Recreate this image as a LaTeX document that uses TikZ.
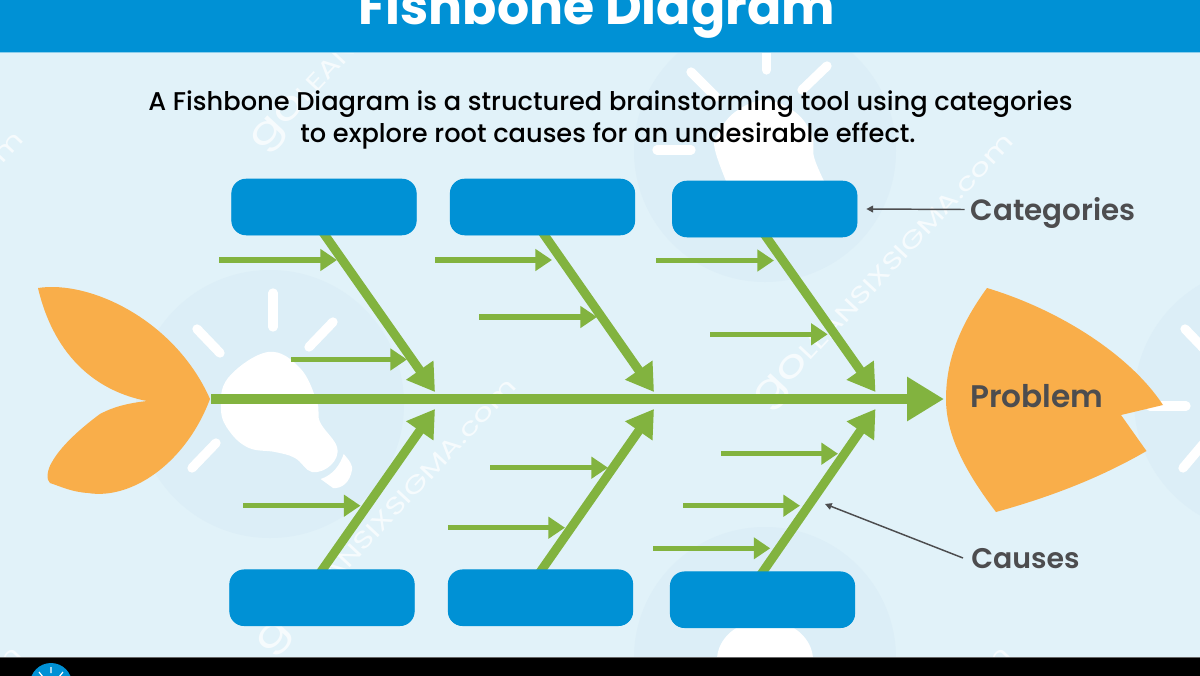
\documentclass[tikz,border=0pt]{standalone}
\usepackage{fontspec}
\setmainfont{Poppins}[BoldFont={Poppins SemiBold}]
\newfontfamily\titlefont{Poppins}[UprightFont=*-Bold]
\newfontfamily\midfont{Poppins Medium}
\usetikzlibrary{arrows.meta,calc}
\definecolor{hdrblue}{HTML}{0091D5}
\definecolor{bgblue}{HTML}{E1F2F9}
\definecolor{halo}{HTML}{DCEEF7}
\definecolor{bonegreen}{HTML}{82B33F}
\definecolor{fishorange}{HTML}{F9AE4A}
\definecolor{labelgrey}{HTML}{4D4D4F}
\newcommand{\wmtext}{{\fontsize{28}{28}\selectfont go}LEANSIXSIGMA.com}
\tikzset{
  catbox/.style={fill=hdrblue,rounded corners=11pt,minimum width=138.5pt,minimum height=42pt,inner sep=0pt},
  spinebone/.style={draw=bonegreen,line width=8.1pt,-{Triangle[length=27.75pt,width=31.5pt]}},
  ribbone/.style={draw=bonegreen,line width=6.75pt,line cap=rect,-{Triangle[length=20pt,width=23.7pt]}},
  causebone/.style={draw=bonegreen,line width=3.9pt,-{Triangle[length=12.4pt,width=15.75pt]}},
  pointer/.style={draw=labelgrey,line width=1.1pt,-{Triangle[length=5pt,width=5pt]}},
  sidelabel/.style={text=labelgrey,font=\fontsize{22}{26}\selectfont\bfseries,inner sep=0pt,anchor=base west},
  ray/.style={draw=white,line width=7pt,line cap=round},
  wmark/.style={text=white,opacity=.7,font=\fontsize{18}{23}\selectfont,inner sep=0pt,anchor=base west,rotate=47,xscale=1.33}
}
\begin{document}
\begin{tikzpicture}[x=0.75pt,y=-0.75pt]
\useasboundingbox (0,0) rectangle (1200,675);
\clip (0,0) rectangle (1200,675);
\fill[bgblue] (0,0) rectangle (1200,675);
% halos
\fill[halo] (270,404) circle (134);
\fill[halo] (765,151) circle (131);
\fill[halo] (765,658) circle (131);
\fill[halo] (1268,400) circle (134);
% bulb 1
\fill[white] plot[smooth cycle,tension=.65] coordinates {(268,352)(300,368)(317,402)(320,422)(337,447)(331,465)(312,472)(295,458)(275,452)(249,448)(230,432)(221,410)(228,378)};
\fill[white] (343.7,454) .. controls (350,461) and (353,466) .. (352,470) .. controls (350,482) and (342,489) .. (333,488) -- (320.7,479) .. controls (333,475) and (340,465) .. (343.7,454) -- cycle;
\draw[ray] (273,293) -- (273,327);
\draw[ray] (197,329) -- (220,353);
\draw[ray] (333,322) -- (309,347);
\draw[ray] (216,443) -- (192,468);
% bulb 2
\fill[white] plot[smooth,tension=.65] coordinates {(824,181)(814,157)(812,135)(795,112)(765,100)(735,112)(717,135)(715,150)(726,181)} -- cycle;
\draw[ray] (766.5,40) -- (766.5,70);
\draw[ray] (691,72) -- (716,97);
\draw[ray] (827,66) -- (802,90);
\draw[ray] (657,150) -- (691,150);
% bulb 3
\fill[white] (765,660) ellipse (48 and 40);
% bulb 4
\draw[ray] (1150,406) -- (1186,406);
\draw[ray] (1183,468) -- (1210,436);
\draw[ray] (1185,329) -- (1210,355);
% watermarks
\node[wmark] (wm1) at (262,152) {\wmtext};
\node[wmark] (wm2) at (268,655) {\wmtext};
\node[wmark] (wm3) at (765,410) {\wmtext};
\node[wmark] (wm4) at (-225,408) {\wmtext};
\node[wmark] (wm5) at (-227,923) {\wmtext};
\node[wmark] (wm6) at (762,923) {\wmtext};
% header and footer
\fill[hdrblue] (0,0) rectangle (1200,52.5);
\draw[white!55!hdrblue,line width=.5pt] (0,52.7) -- (1200,52.7);
\fill[black] (0,657.5) rectangle (1210,685);
\draw[black!60,line width=.5pt] (0,657.3) -- (1200,657.3);
\fill[hdrblue] (51,684) circle (21);
\draw[white,line width=.9pt] (51,667) -- (51,673) (39,672) -- (43,677) (63,672) -- (59,677);
\node[text=white,font=\fontsize{37.9}{42}\selectfont\titlefont,inner sep=0pt,anchor=base] (title) at (596.5,24.5) {Fishbone Diagram};
\node[text=black,font=\fontsize{19.25}{23}\selectfont\midfont,inner sep=0pt,anchor=base] (sub1) at (610.5,110) {A Fishbone Diagram is a structured brainstorming tool using categories};
\node[text=black,font=\fontsize{19.25}{23}\selectfont\midfont,inner sep=0pt,anchor=base] (sub2) at (608,142) {to explore root causes for an undesirable effect.};
% coordinates
\coordinate (tailapex) at (211,399);
\coordinate (headtip) at (944,399);
\coordinate (t1) at (435,392); \coordinate (t2) at (654,392); \coordinate (t3) at (875.5,392);
\coordinate (b1) at (435,409); \coordinate (b2) at (654,409); \coordinate (b3) at (875.5,409);
% fish tail
\fill[fishorange] (38,288) .. controls (90,280) and (175,320) .. (210,399)
  .. controls (185,465) and (130,500) .. (88,493)
  .. controls (72,492) and (62,487) .. (50,483)
  .. controls (46,480) and (47,470) .. (52,462)
  .. controls (62,444) and (85,425) .. (100,414)
  .. controls (115,406) and (130,403) .. (147,401)
  .. controls (100,392) and (55,360) .. (38,288) -- cycle;
% fish head
\fill[fishorange] (987,288) .. controls (1060,310) and (1130,355) .. (1163,405)
  -- (1121,415) -- (1146.5,451)
  .. controls (1100,478) and (1050,497) .. (996,512)
  .. controls (960,465) and (946,430) .. (946,399)
  .. controls (946,360) and (960,325) .. (987,288) -- cycle;
% bones
\draw[spinebone] (tailapex) -- (headtip);
\node[catbox] (ct1) at (324,207) {};
\node[catbox] (ct2) at (542.5,207) {};
\node[catbox] (ct3) at (764.75,209) {};
\node[catbox] (cb1) at (322,597.75) {};
\node[catbox] (cb2) at (540.5,597.75) {};
\node[catbox] (cb3) at (762.5,599.75) {};
\draw[ribbone] ([xshift=.75pt]ct1.south) -- (t1);
\draw[ribbone] ([xshift=1.5pt]ct2.south) -- (t2);
\draw[ribbone] ([xshift=1.3pt]ct3.south) -- (t3);
\draw[ribbone] ([xshift=.4pt]cb1.north) -- (b1);
\draw[ribbone] ([xshift=1.1pt]cb2.north) -- (b2);
\draw[ribbone] ([xshift=.4pt]cb3.north) -- (b3);
\fill[hdrblue,rounded corners=11pt] (ct1.south west) rectangle (ct1.north east);
\fill[hdrblue,rounded corners=11pt] (ct2.south west) rectangle (ct2.north east);
\fill[hdrblue,rounded corners=11pt] (ct3.south west) rectangle (ct3.north east);
\fill[hdrblue,rounded corners=11pt] (cb1.south west) rectangle (cb1.north east);
\fill[hdrblue,rounded corners=11pt] (cb2.south west) rectangle (cb2.north east);
\fill[hdrblue,rounded corners=11pt] (cb3.south west) rectangle (cb3.north east);
% causes
\foreach \n/\sx/\sy/\ex in {a/219/260/337,b/291/359.5/407,c/243/505.7/360.5,d/435/260/552,e/479/317/597,f/490/467.7/608,g/448/527.7/565,h/656/260.5/774,i/710/334.3/827.7,j/721/453.7/838,k/683/505.7/800,l/653/548.3/770.3}{
  \coordinate (cs\n) at (\sx,\sy);
  \coordinate (ce\n) at (\ex,\sy);
  \draw[causebone] (cs\n) -- (ce\n);
}
% labels
\node[sidelabel,font=\fontsize{23.4}{26}\selectfont\bfseries] (problem) at (970,407.5) {Problem};
\node[sidelabel] (categories) at (970.5,220) {Categories};
\node[sidelabel,font=\fontsize{21.3}{26}\selectfont\bfseries] (causes) at (971,568.5) {Causes};
\coordinate (causetip) at (825,504);
\draw[pointer] ([shift={(-6,-10.5)}]categories.base west) -- ([xshift=6.75pt]ct3.east);
\draw[pointer] ([shift={(-8,-10.5)}]causes.base west) -- (causetip);
\end{tikzpicture}
\end{document}
